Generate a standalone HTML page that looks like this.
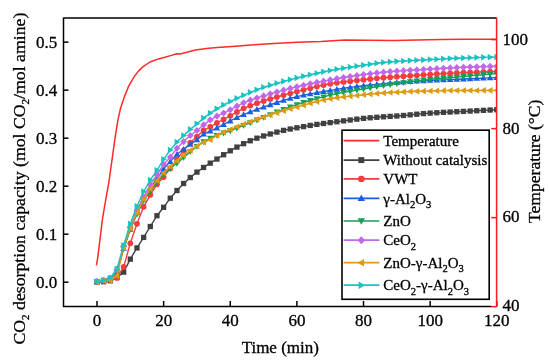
<!DOCTYPE html>
<html><head><meta charset="utf-8"><style>
html,body{margin:0;padding:0;background:#fff;}
body{width:550px;height:362px;overflow:hidden;font-family:"Liberation Serif",serif;}
svg{display:block;will-change:transform;}
</style></head><body>
<svg width="550" height="362" viewBox="0 0 550 362"><rect width="550" height="362" fill="#fff"/><clipPath id="cp"><rect x="63.5" y="18" width="433" height="288.3"/></clipPath><g clip-path="url(#cp)"><polyline points="96.40,265.40 97.70,258.00 100.10,238.70 102.40,219.40 104.50,206.80 108.90,182.00 112.40,157.20 115.50,134.90 117.70,121.20 120.60,108.00 124.30,96.90 128.80,85.90 134.40,76.40 138.70,70.90 143.10,66.60 150.00,62.00 158.40,58.90 164.90,57.30 170.50,55.60 176.90,53.70 180.20,54.00 186.70,52.30 195.50,50.10 206.40,48.60 217.30,47.50 228.20,46.70 239.10,45.90 250.00,45.10 273.60,43.60 297.30,42.20 320.90,41.50 344.60,40.10 368.20,40.30 393.60,40.40 417.30,39.90 440.90,39.40 464.60,39.20 496.50,39.20" fill="none" stroke="#ff2a2a" stroke-width="1.5" stroke-linejoin="round"/><polyline points="97.00,282.20 103.66,281.72 110.33,280.76 116.99,277.40 123.65,272.12 130.31,259.16 136.98,247.92 143.64,237.41 150.30,226.51 156.97,215.71 163.63,207.30 170.29,198.18 176.96,190.50 183.62,183.49 190.28,177.54 196.94,172.11 203.61,167.46 210.27,163.14 216.93,159.05 223.60,154.73 230.26,150.80 236.92,147.08 243.59,143.69 250.25,140.75 256.91,138.17 263.58,135.97 270.24,133.99 276.90,132.09 283.56,130.39 290.23,129.02 296.89,127.80 303.55,126.60 310.22,125.44 316.88,124.39 323.54,123.47 330.21,122.61 336.87,121.74 343.53,120.87 350.19,120.02 356.86,119.16 363.52,118.39 370.18,117.79 376.85,117.27 383.51,116.81 390.17,116.40 396.84,115.99 403.50,115.46 410.16,114.85 416.82,114.21 423.49,113.61 430.15,113.11 436.81,112.71 443.48,112.35 450.14,112.03 456.80,111.71 463.47,111.38 470.13,111.04 476.79,110.70 483.45,110.37 490.12,110.03 496.78,109.70" fill="none" stroke="#404040" stroke-width="1.4" stroke-linejoin="round"/><rect x="94.35" y="279.55" width="5.30" height="5.30" fill="#404040"/><rect x="101.01" y="279.07" width="5.30" height="5.30" fill="#404040"/><rect x="107.68" y="278.11" width="5.30" height="5.30" fill="#404040"/><rect x="114.34" y="274.75" width="5.30" height="5.30" fill="#404040"/><rect x="121.00" y="269.47" width="5.30" height="5.30" fill="#404040"/><rect x="127.66" y="256.51" width="5.30" height="5.30" fill="#404040"/><rect x="134.33" y="245.27" width="5.30" height="5.30" fill="#404040"/><rect x="140.99" y="234.76" width="5.30" height="5.30" fill="#404040"/><rect x="147.65" y="223.86" width="5.30" height="5.30" fill="#404040"/><rect x="154.32" y="213.06" width="5.30" height="5.30" fill="#404040"/><rect x="160.98" y="204.65" width="5.30" height="5.30" fill="#404040"/><rect x="167.64" y="195.53" width="5.30" height="5.30" fill="#404040"/><rect x="174.31" y="187.85" width="5.30" height="5.30" fill="#404040"/><rect x="180.97" y="180.84" width="5.30" height="5.30" fill="#404040"/><rect x="187.63" y="174.89" width="5.30" height="5.30" fill="#404040"/><rect x="194.29" y="169.46" width="5.30" height="5.30" fill="#404040"/><rect x="200.96" y="164.81" width="5.30" height="5.30" fill="#404040"/><rect x="207.62" y="160.49" width="5.30" height="5.30" fill="#404040"/><rect x="214.28" y="156.40" width="5.30" height="5.30" fill="#404040"/><rect x="220.95" y="152.08" width="5.30" height="5.30" fill="#404040"/><rect x="227.61" y="148.15" width="5.30" height="5.30" fill="#404040"/><rect x="234.27" y="144.43" width="5.30" height="5.30" fill="#404040"/><rect x="240.94" y="141.04" width="5.30" height="5.30" fill="#404040"/><rect x="247.60" y="138.10" width="5.30" height="5.30" fill="#404040"/><rect x="254.26" y="135.52" width="5.30" height="5.30" fill="#404040"/><rect x="260.93" y="133.32" width="5.30" height="5.30" fill="#404040"/><rect x="267.59" y="131.34" width="5.30" height="5.30" fill="#404040"/><rect x="274.25" y="129.44" width="5.30" height="5.30" fill="#404040"/><rect x="280.91" y="127.74" width="5.30" height="5.30" fill="#404040"/><rect x="287.58" y="126.37" width="5.30" height="5.30" fill="#404040"/><rect x="294.24" y="125.15" width="5.30" height="5.30" fill="#404040"/><rect x="300.90" y="123.95" width="5.30" height="5.30" fill="#404040"/><rect x="307.57" y="122.79" width="5.30" height="5.30" fill="#404040"/><rect x="314.23" y="121.74" width="5.30" height="5.30" fill="#404040"/><rect x="320.89" y="120.82" width="5.30" height="5.30" fill="#404040"/><rect x="327.56" y="119.96" width="5.30" height="5.30" fill="#404040"/><rect x="334.22" y="119.09" width="5.30" height="5.30" fill="#404040"/><rect x="340.88" y="118.22" width="5.30" height="5.30" fill="#404040"/><rect x="347.54" y="117.37" width="5.30" height="5.30" fill="#404040"/><rect x="354.21" y="116.51" width="5.30" height="5.30" fill="#404040"/><rect x="360.87" y="115.74" width="5.30" height="5.30" fill="#404040"/><rect x="367.53" y="115.14" width="5.30" height="5.30" fill="#404040"/><rect x="374.20" y="114.62" width="5.30" height="5.30" fill="#404040"/><rect x="380.86" y="114.16" width="5.30" height="5.30" fill="#404040"/><rect x="387.52" y="113.75" width="5.30" height="5.30" fill="#404040"/><rect x="394.19" y="113.34" width="5.30" height="5.30" fill="#404040"/><rect x="400.85" y="112.81" width="5.30" height="5.30" fill="#404040"/><rect x="407.51" y="112.20" width="5.30" height="5.30" fill="#404040"/><rect x="414.17" y="111.56" width="5.30" height="5.30" fill="#404040"/><rect x="420.84" y="110.96" width="5.30" height="5.30" fill="#404040"/><rect x="427.50" y="110.46" width="5.30" height="5.30" fill="#404040"/><rect x="434.16" y="110.06" width="5.30" height="5.30" fill="#404040"/><rect x="440.83" y="109.70" width="5.30" height="5.30" fill="#404040"/><rect x="447.49" y="109.38" width="5.30" height="5.30" fill="#404040"/><rect x="454.15" y="109.06" width="5.30" height="5.30" fill="#404040"/><rect x="460.82" y="108.73" width="5.30" height="5.30" fill="#404040"/><rect x="467.48" y="108.39" width="5.30" height="5.30" fill="#404040"/><rect x="474.14" y="108.05" width="5.30" height="5.30" fill="#404040"/><rect x="480.80" y="107.72" width="5.30" height="5.30" fill="#404040"/><rect x="487.47" y="107.38" width="5.30" height="5.30" fill="#404040"/><rect x="494.13" y="107.05" width="5.30" height="5.30" fill="#404040"/><polyline points="97.00,281.72 103.66,280.76 110.33,279.80 116.99,277.88 123.65,266.84 130.31,243.31 136.98,223.82 143.64,206.82 150.30,194.82 156.97,184.26 163.63,177.06 170.29,168.42 176.96,159.29 183.62,150.65 190.28,142.68 196.94,136.59 203.61,130.49 210.27,126.79 216.93,123.00 223.60,119.39 230.26,115.80 236.92,111.88 243.59,108.31 250.25,105.56 256.91,103.19 263.58,101.01 270.24,98.93 276.90,96.97 283.56,95.11 290.23,93.33 296.89,91.60 303.55,89.87 310.22,88.13 316.88,86.49 323.54,85.01 330.21,83.77 336.87,82.78 343.53,81.92 350.19,81.15 356.86,80.41 363.52,79.70 370.18,79.01 376.85,78.36 383.51,77.76 390.17,77.20 396.84,76.68 403.50,76.21 410.16,75.76 416.82,75.32 423.49,74.89 430.15,74.45 436.81,74.01 443.48,73.58 450.14,73.20 456.80,72.88 463.47,72.60 470.13,72.34 476.79,72.10 483.45,71.89 490.12,71.72 496.78,71.58" fill="none" stroke="#f53c3c" stroke-width="1.4" stroke-linejoin="round"/><circle cx="97.00" cy="281.72" r="2.90" fill="#f53c3c"/><circle cx="103.66" cy="280.76" r="2.90" fill="#f53c3c"/><circle cx="110.33" cy="279.80" r="2.90" fill="#f53c3c"/><circle cx="116.99" cy="277.88" r="2.90" fill="#f53c3c"/><circle cx="123.65" cy="266.84" r="2.90" fill="#f53c3c"/><circle cx="130.31" cy="243.31" r="2.90" fill="#f53c3c"/><circle cx="136.98" cy="223.82" r="2.90" fill="#f53c3c"/><circle cx="143.64" cy="206.82" r="2.90" fill="#f53c3c"/><circle cx="150.30" cy="194.82" r="2.90" fill="#f53c3c"/><circle cx="156.97" cy="184.26" r="2.90" fill="#f53c3c"/><circle cx="163.63" cy="177.06" r="2.90" fill="#f53c3c"/><circle cx="170.29" cy="168.42" r="2.90" fill="#f53c3c"/><circle cx="176.96" cy="159.29" r="2.90" fill="#f53c3c"/><circle cx="183.62" cy="150.65" r="2.90" fill="#f53c3c"/><circle cx="190.28" cy="142.68" r="2.90" fill="#f53c3c"/><circle cx="196.94" cy="136.59" r="2.90" fill="#f53c3c"/><circle cx="203.61" cy="130.49" r="2.90" fill="#f53c3c"/><circle cx="210.27" cy="126.79" r="2.90" fill="#f53c3c"/><circle cx="216.93" cy="123.00" r="2.90" fill="#f53c3c"/><circle cx="223.60" cy="119.39" r="2.90" fill="#f53c3c"/><circle cx="230.26" cy="115.80" r="2.90" fill="#f53c3c"/><circle cx="236.92" cy="111.88" r="2.90" fill="#f53c3c"/><circle cx="243.59" cy="108.31" r="2.90" fill="#f53c3c"/><circle cx="250.25" cy="105.56" r="2.90" fill="#f53c3c"/><circle cx="256.91" cy="103.19" r="2.90" fill="#f53c3c"/><circle cx="263.58" cy="101.01" r="2.90" fill="#f53c3c"/><circle cx="270.24" cy="98.93" r="2.90" fill="#f53c3c"/><circle cx="276.90" cy="96.97" r="2.90" fill="#f53c3c"/><circle cx="283.56" cy="95.11" r="2.90" fill="#f53c3c"/><circle cx="290.23" cy="93.33" r="2.90" fill="#f53c3c"/><circle cx="296.89" cy="91.60" r="2.90" fill="#f53c3c"/><circle cx="303.55" cy="89.87" r="2.90" fill="#f53c3c"/><circle cx="310.22" cy="88.13" r="2.90" fill="#f53c3c"/><circle cx="316.88" cy="86.49" r="2.90" fill="#f53c3c"/><circle cx="323.54" cy="85.01" r="2.90" fill="#f53c3c"/><circle cx="330.21" cy="83.77" r="2.90" fill="#f53c3c"/><circle cx="336.87" cy="82.78" r="2.90" fill="#f53c3c"/><circle cx="343.53" cy="81.92" r="2.90" fill="#f53c3c"/><circle cx="350.19" cy="81.15" r="2.90" fill="#f53c3c"/><circle cx="356.86" cy="80.41" r="2.90" fill="#f53c3c"/><circle cx="363.52" cy="79.70" r="2.90" fill="#f53c3c"/><circle cx="370.18" cy="79.01" r="2.90" fill="#f53c3c"/><circle cx="376.85" cy="78.36" r="2.90" fill="#f53c3c"/><circle cx="383.51" cy="77.76" r="2.90" fill="#f53c3c"/><circle cx="390.17" cy="77.20" r="2.90" fill="#f53c3c"/><circle cx="396.84" cy="76.68" r="2.90" fill="#f53c3c"/><circle cx="403.50" cy="76.21" r="2.90" fill="#f53c3c"/><circle cx="410.16" cy="75.76" r="2.90" fill="#f53c3c"/><circle cx="416.82" cy="75.32" r="2.90" fill="#f53c3c"/><circle cx="423.49" cy="74.89" r="2.90" fill="#f53c3c"/><circle cx="430.15" cy="74.45" r="2.90" fill="#f53c3c"/><circle cx="436.81" cy="74.01" r="2.90" fill="#f53c3c"/><circle cx="443.48" cy="73.58" r="2.90" fill="#f53c3c"/><circle cx="450.14" cy="73.20" r="2.90" fill="#f53c3c"/><circle cx="456.80" cy="72.88" r="2.90" fill="#f53c3c"/><circle cx="463.47" cy="72.60" r="2.90" fill="#f53c3c"/><circle cx="470.13" cy="72.34" r="2.90" fill="#f53c3c"/><circle cx="476.79" cy="72.10" r="2.90" fill="#f53c3c"/><circle cx="483.45" cy="71.89" r="2.90" fill="#f53c3c"/><circle cx="490.12" cy="71.72" r="2.90" fill="#f53c3c"/><circle cx="496.78" cy="71.58" r="2.90" fill="#f53c3c"/><polyline points="97.00,281.72 103.66,280.28 110.33,278.84 116.99,271.64 123.65,248.59 130.31,229.39 136.98,212.59 143.64,199.62 150.30,188.10 156.97,178.50 163.63,168.90 170.29,161.60 176.96,154.30 183.62,149.31 190.28,144.41 196.94,139.80 203.61,134.19 210.27,131.11 216.93,127.99 223.60,124.50 230.26,120.98 236.92,117.69 243.59,114.65 250.25,111.93 256.91,109.42 263.58,107.06 270.24,104.75 276.90,102.48 283.56,100.33 290.23,98.36 296.89,96.64 303.55,95.17 310.22,93.84 316.88,92.63 323.54,91.50 330.21,90.40 336.87,89.33 343.53,88.31 350.19,87.36 356.86,86.51 363.52,85.75 370.18,85.04 376.85,84.38 383.51,83.77 390.17,83.20 396.84,82.65 403.50,82.13 410.16,81.64 416.82,81.19 423.49,80.80 430.15,80.45 436.81,80.15 443.48,79.87 450.14,79.59 456.80,79.31 463.47,79.02 470.13,78.73 476.79,78.44 483.45,78.15 490.12,77.87 496.78,77.58" fill="none" stroke="#1a5fe0" stroke-width="1.4" stroke-linejoin="round"/><path d="M97.00,278.32L100.30,284.12L93.70,284.12Z" fill="#1a5fe0"/><path d="M103.66,276.88L106.96,282.68L100.36,282.68Z" fill="#1a5fe0"/><path d="M110.33,275.44L113.63,281.24L107.03,281.24Z" fill="#1a5fe0"/><path d="M116.99,268.24L120.29,274.04L113.69,274.04Z" fill="#1a5fe0"/><path d="M123.65,245.19L126.95,250.99L120.35,250.99Z" fill="#1a5fe0"/><path d="M130.31,225.99L133.62,231.79L127.02,231.79Z" fill="#1a5fe0"/><path d="M136.98,209.19L140.28,214.99L133.68,214.99Z" fill="#1a5fe0"/><path d="M143.64,196.22L146.94,202.02L140.34,202.02Z" fill="#1a5fe0"/><path d="M150.30,184.70L153.60,190.50L147.00,190.50Z" fill="#1a5fe0"/><path d="M156.97,175.10L160.27,180.90L153.67,180.90Z" fill="#1a5fe0"/><path d="M163.63,165.50L166.93,171.30L160.33,171.30Z" fill="#1a5fe0"/><path d="M170.29,158.20L173.59,164.00L166.99,164.00Z" fill="#1a5fe0"/><path d="M176.96,150.90L180.26,156.70L173.66,156.70Z" fill="#1a5fe0"/><path d="M183.62,145.91L186.92,151.71L180.32,151.71Z" fill="#1a5fe0"/><path d="M190.28,141.01L193.58,146.81L186.98,146.81Z" fill="#1a5fe0"/><path d="M196.94,136.40L200.25,142.20L193.64,142.20Z" fill="#1a5fe0"/><path d="M203.61,130.79L206.91,136.59L200.31,136.59Z" fill="#1a5fe0"/><path d="M210.27,127.71L213.57,133.51L206.97,133.51Z" fill="#1a5fe0"/><path d="M216.93,124.59L220.23,130.39L213.63,130.39Z" fill="#1a5fe0"/><path d="M223.60,121.10L226.90,126.90L220.30,126.90Z" fill="#1a5fe0"/><path d="M230.26,117.58L233.56,123.38L226.96,123.38Z" fill="#1a5fe0"/><path d="M236.92,114.29L240.22,120.09L233.62,120.09Z" fill="#1a5fe0"/><path d="M243.59,111.25L246.89,117.05L240.29,117.05Z" fill="#1a5fe0"/><path d="M250.25,108.53L253.55,114.33L246.95,114.33Z" fill="#1a5fe0"/><path d="M256.91,106.02L260.21,111.82L253.61,111.82Z" fill="#1a5fe0"/><path d="M263.58,103.66L266.88,109.46L260.28,109.46Z" fill="#1a5fe0"/><path d="M270.24,101.35L273.54,107.15L266.94,107.15Z" fill="#1a5fe0"/><path d="M276.90,99.08L280.20,104.88L273.60,104.88Z" fill="#1a5fe0"/><path d="M283.56,96.93L286.86,102.73L280.26,102.73Z" fill="#1a5fe0"/><path d="M290.23,94.96L293.53,100.76L286.93,100.76Z" fill="#1a5fe0"/><path d="M296.89,93.24L300.19,99.04L293.59,99.04Z" fill="#1a5fe0"/><path d="M303.55,91.77L306.85,97.57L300.25,97.57Z" fill="#1a5fe0"/><path d="M310.22,90.44L313.52,96.24L306.92,96.24Z" fill="#1a5fe0"/><path d="M316.88,89.23L320.18,95.03L313.58,95.03Z" fill="#1a5fe0"/><path d="M323.54,88.10L326.84,93.90L320.24,93.90Z" fill="#1a5fe0"/><path d="M330.21,87.00L333.51,92.80L326.91,92.80Z" fill="#1a5fe0"/><path d="M336.87,85.93L340.17,91.73L333.57,91.73Z" fill="#1a5fe0"/><path d="M343.53,84.91L346.83,90.71L340.23,90.71Z" fill="#1a5fe0"/><path d="M350.19,83.96L353.49,89.76L346.89,89.76Z" fill="#1a5fe0"/><path d="M356.86,83.11L360.16,88.91L353.56,88.91Z" fill="#1a5fe0"/><path d="M363.52,82.35L366.82,88.15L360.22,88.15Z" fill="#1a5fe0"/><path d="M370.18,81.64L373.48,87.44L366.88,87.44Z" fill="#1a5fe0"/><path d="M376.85,80.98L380.15,86.78L373.55,86.78Z" fill="#1a5fe0"/><path d="M383.51,80.37L386.81,86.17L380.21,86.17Z" fill="#1a5fe0"/><path d="M390.17,79.80L393.47,85.60L386.87,85.60Z" fill="#1a5fe0"/><path d="M396.84,79.25L400.14,85.05L393.54,85.05Z" fill="#1a5fe0"/><path d="M403.50,78.73L406.80,84.53L400.20,84.53Z" fill="#1a5fe0"/><path d="M410.16,78.24L413.46,84.04L406.86,84.04Z" fill="#1a5fe0"/><path d="M416.82,77.79L420.12,83.59L413.52,83.59Z" fill="#1a5fe0"/><path d="M423.49,77.40L426.79,83.20L420.19,83.20Z" fill="#1a5fe0"/><path d="M430.15,77.05L433.45,82.85L426.85,82.85Z" fill="#1a5fe0"/><path d="M436.81,76.75L440.11,82.55L433.51,82.55Z" fill="#1a5fe0"/><path d="M443.48,76.47L446.78,82.27L440.18,82.27Z" fill="#1a5fe0"/><path d="M450.14,76.19L453.44,81.99L446.84,81.99Z" fill="#1a5fe0"/><path d="M456.80,75.91L460.10,81.71L453.50,81.71Z" fill="#1a5fe0"/><path d="M463.47,75.62L466.77,81.42L460.17,81.42Z" fill="#1a5fe0"/><path d="M470.13,75.33L473.43,81.13L466.83,81.13Z" fill="#1a5fe0"/><path d="M476.79,75.04L480.09,80.84L473.49,80.84Z" fill="#1a5fe0"/><path d="M483.45,74.75L486.75,80.55L480.15,80.55Z" fill="#1a5fe0"/><path d="M490.12,74.47L493.42,80.27L486.82,80.27Z" fill="#1a5fe0"/><path d="M496.78,74.18L500.08,79.98L493.48,79.98Z" fill="#1a5fe0"/><polyline points="97.00,281.72 103.66,280.28 110.33,278.84 116.99,272.60 123.65,248.59 130.31,229.39 136.98,214.03 143.64,200.58 150.30,190.98 156.97,182.34 163.63,174.66 170.29,168.42 176.96,163.28 183.62,157.37 190.28,151.61 196.94,146.33 203.61,141.77 210.27,138.17 216.93,135.29 223.60,132.98 230.26,130.73 236.92,128.15 243.59,125.45 250.25,122.73 256.91,119.98 263.58,117.29 270.24,114.61 276.90,111.93 283.56,109.31 290.23,106.82 296.89,104.56 303.55,102.48 310.22,100.48 316.88,98.59 323.54,96.82 330.21,95.19 336.87,93.71 343.53,92.43 350.19,91.28 356.86,90.16 363.52,89.00 370.18,87.85 376.85,86.72 383.51,85.62 390.17,84.59 396.84,83.60 403.50,82.63 410.16,81.70 416.82,80.85 423.49,80.08 430.15,79.40 436.81,78.80 443.48,78.23 450.14,77.68 456.80,77.10 463.47,76.50 470.13,75.90 476.79,75.30 483.45,74.70 490.12,74.10 496.78,73.50" fill="none" stroke="#12a05a" stroke-width="1.4" stroke-linejoin="round"/><path d="M97.00,285.12L100.30,279.32L93.70,279.32Z" fill="#12a05a"/><path d="M103.66,283.68L106.96,277.88L100.36,277.88Z" fill="#12a05a"/><path d="M110.33,282.24L113.63,276.44L107.03,276.44Z" fill="#12a05a"/><path d="M116.99,276.00L120.29,270.20L113.69,270.20Z" fill="#12a05a"/><path d="M123.65,251.99L126.95,246.19L120.35,246.19Z" fill="#12a05a"/><path d="M130.31,232.79L133.62,226.99L127.02,226.99Z" fill="#12a05a"/><path d="M136.98,217.43L140.28,211.63L133.68,211.63Z" fill="#12a05a"/><path d="M143.64,203.98L146.94,198.18L140.34,198.18Z" fill="#12a05a"/><path d="M150.30,194.38L153.60,188.58L147.00,188.58Z" fill="#12a05a"/><path d="M156.97,185.74L160.27,179.94L153.67,179.94Z" fill="#12a05a"/><path d="M163.63,178.06L166.93,172.26L160.33,172.26Z" fill="#12a05a"/><path d="M170.29,171.82L173.59,166.02L166.99,166.02Z" fill="#12a05a"/><path d="M176.96,166.68L180.26,160.88L173.66,160.88Z" fill="#12a05a"/><path d="M183.62,160.77L186.92,154.97L180.32,154.97Z" fill="#12a05a"/><path d="M190.28,155.01L193.58,149.21L186.98,149.21Z" fill="#12a05a"/><path d="M196.94,149.73L200.25,143.93L193.64,143.93Z" fill="#12a05a"/><path d="M203.61,145.17L206.91,139.37L200.31,139.37Z" fill="#12a05a"/><path d="M210.27,141.57L213.57,135.77L206.97,135.77Z" fill="#12a05a"/><path d="M216.93,138.69L220.23,132.89L213.63,132.89Z" fill="#12a05a"/><path d="M223.60,136.38L226.90,130.58L220.30,130.58Z" fill="#12a05a"/><path d="M230.26,134.13L233.56,128.33L226.96,128.33Z" fill="#12a05a"/><path d="M236.92,131.55L240.22,125.75L233.62,125.75Z" fill="#12a05a"/><path d="M243.59,128.85L246.89,123.05L240.29,123.05Z" fill="#12a05a"/><path d="M250.25,126.13L253.55,120.33L246.95,120.33Z" fill="#12a05a"/><path d="M256.91,123.38L260.21,117.58L253.61,117.58Z" fill="#12a05a"/><path d="M263.58,120.69L266.88,114.89L260.28,114.89Z" fill="#12a05a"/><path d="M270.24,118.01L273.54,112.21L266.94,112.21Z" fill="#12a05a"/><path d="M276.90,115.33L280.20,109.53L273.60,109.53Z" fill="#12a05a"/><path d="M283.56,112.71L286.86,106.91L280.26,106.91Z" fill="#12a05a"/><path d="M290.23,110.22L293.53,104.42L286.93,104.42Z" fill="#12a05a"/><path d="M296.89,107.96L300.19,102.16L293.59,102.16Z" fill="#12a05a"/><path d="M303.55,105.88L306.85,100.08L300.25,100.08Z" fill="#12a05a"/><path d="M310.22,103.88L313.52,98.08L306.92,98.08Z" fill="#12a05a"/><path d="M316.88,101.99L320.18,96.19L313.58,96.19Z" fill="#12a05a"/><path d="M323.54,100.22L326.84,94.42L320.24,94.42Z" fill="#12a05a"/><path d="M330.21,98.59L333.51,92.79L326.91,92.79Z" fill="#12a05a"/><path d="M336.87,97.11L340.17,91.31L333.57,91.31Z" fill="#12a05a"/><path d="M343.53,95.83L346.83,90.03L340.23,90.03Z" fill="#12a05a"/><path d="M350.19,94.68L353.49,88.88L346.89,88.88Z" fill="#12a05a"/><path d="M356.86,93.56L360.16,87.76L353.56,87.76Z" fill="#12a05a"/><path d="M363.52,92.40L366.82,86.60L360.22,86.60Z" fill="#12a05a"/><path d="M370.18,91.25L373.48,85.45L366.88,85.45Z" fill="#12a05a"/><path d="M376.85,90.12L380.15,84.32L373.55,84.32Z" fill="#12a05a"/><path d="M383.51,89.02L386.81,83.22L380.21,83.22Z" fill="#12a05a"/><path d="M390.17,87.99L393.47,82.19L386.87,82.19Z" fill="#12a05a"/><path d="M396.84,87.00L400.14,81.20L393.54,81.20Z" fill="#12a05a"/><path d="M403.50,86.03L406.80,80.23L400.20,80.23Z" fill="#12a05a"/><path d="M410.16,85.10L413.46,79.30L406.86,79.30Z" fill="#12a05a"/><path d="M416.82,84.25L420.12,78.45L413.52,78.45Z" fill="#12a05a"/><path d="M423.49,83.48L426.79,77.68L420.19,77.68Z" fill="#12a05a"/><path d="M430.15,82.80L433.45,77.00L426.85,77.00Z" fill="#12a05a"/><path d="M436.81,82.20L440.11,76.40L433.51,76.40Z" fill="#12a05a"/><path d="M443.48,81.63L446.78,75.83L440.18,75.83Z" fill="#12a05a"/><path d="M450.14,81.08L453.44,75.28L446.84,75.28Z" fill="#12a05a"/><path d="M456.80,80.50L460.10,74.70L453.50,74.70Z" fill="#12a05a"/><path d="M463.47,79.90L466.77,74.10L460.17,74.10Z" fill="#12a05a"/><path d="M470.13,79.30L473.43,73.50L466.83,73.50Z" fill="#12a05a"/><path d="M476.79,78.70L480.09,72.90L473.49,72.90Z" fill="#12a05a"/><path d="M483.45,78.10L486.75,72.30L480.15,72.30Z" fill="#12a05a"/><path d="M490.12,77.50L493.42,71.70L486.82,71.70Z" fill="#12a05a"/><path d="M496.78,76.90L500.08,71.10L493.48,71.10Z" fill="#12a05a"/><polyline points="97.00,281.72 103.66,280.28 110.33,278.36 116.99,269.72 123.65,246.19 130.31,226.99 136.98,210.19 143.64,196.74 150.30,184.40 156.97,174.99 163.63,164.38 170.29,157.18 176.96,148.25 183.62,141.58 190.28,135.48 196.94,130.49 203.61,124.92 210.27,119.93 216.93,116.18 223.60,112.98 230.26,109.84 236.92,106.18 243.59,102.79 250.25,100.21 256.91,97.99 263.58,95.92 270.24,93.91 276.90,91.99 283.56,90.16 290.23,88.43 296.89,86.80 303.55,85.27 310.22,83.82 316.88,82.44 323.54,81.13 330.21,79.89 336.87,78.69 343.53,77.55 350.19,76.49 356.86,75.52 363.52,74.61 370.18,73.73 376.85,72.91 383.51,72.19 390.17,71.58 396.84,71.08 403.50,70.65 410.16,70.27 416.82,69.90 423.49,69.52 430.15,69.11 436.81,68.69 443.48,68.28 450.14,67.91 456.80,67.60 463.47,67.32 470.13,67.07 476.79,66.83 483.45,66.62 490.12,66.44 496.78,66.30" fill="none" stroke="#c267ea" stroke-width="1.4" stroke-linejoin="round"/><path d="M97.00,278.12L100.40,281.72L97.00,285.32L93.60,281.72Z" fill="#c267ea"/><path d="M103.66,276.68L107.06,280.28L103.66,283.88L100.26,280.28Z" fill="#c267ea"/><path d="M110.33,274.76L113.73,278.36L110.33,281.96L106.93,278.36Z" fill="#c267ea"/><path d="M116.99,266.12L120.39,269.72L116.99,273.32L113.59,269.72Z" fill="#c267ea"/><path d="M123.65,242.59L127.05,246.19L123.65,249.79L120.25,246.19Z" fill="#c267ea"/><path d="M130.31,223.39L133.72,226.99L130.31,230.59L126.91,226.99Z" fill="#c267ea"/><path d="M136.98,206.59L140.38,210.19L136.98,213.78L133.58,210.19Z" fill="#c267ea"/><path d="M143.64,193.14L147.04,196.74L143.64,200.34L140.24,196.74Z" fill="#c267ea"/><path d="M150.30,180.80L153.70,184.40L150.30,188.00L146.90,184.40Z" fill="#c267ea"/><path d="M156.97,171.39L160.37,174.99L156.97,178.59L153.57,174.99Z" fill="#c267ea"/><path d="M163.63,160.78L167.03,164.38L163.63,167.98L160.23,164.38Z" fill="#c267ea"/><path d="M170.29,153.58L173.69,157.18L170.29,160.78L166.89,157.18Z" fill="#c267ea"/><path d="M176.96,144.65L180.36,148.25L176.96,151.85L173.56,148.25Z" fill="#c267ea"/><path d="M183.62,137.98L187.02,141.58L183.62,145.18L180.22,141.58Z" fill="#c267ea"/><path d="M190.28,131.88L193.68,135.48L190.28,139.08L186.88,135.48Z" fill="#c267ea"/><path d="M196.94,126.89L200.34,130.49L196.94,134.09L193.54,130.49Z" fill="#c267ea"/><path d="M203.61,121.32L207.01,124.92L203.61,128.52L200.21,124.92Z" fill="#c267ea"/><path d="M210.27,116.33L213.67,119.93L210.27,123.53L206.87,119.93Z" fill="#c267ea"/><path d="M216.93,112.58L220.33,116.18L216.93,119.78L213.53,116.18Z" fill="#c267ea"/><path d="M223.60,109.38L227.00,112.98L223.60,116.58L220.20,112.98Z" fill="#c267ea"/><path d="M230.26,106.24L233.66,109.84L230.26,113.44L226.86,109.84Z" fill="#c267ea"/><path d="M236.92,102.58L240.32,106.18L236.92,109.78L233.52,106.18Z" fill="#c267ea"/><path d="M243.59,99.19L246.99,102.79L243.59,106.39L240.19,102.79Z" fill="#c267ea"/><path d="M250.25,96.61L253.65,100.21L250.25,103.81L246.85,100.21Z" fill="#c267ea"/><path d="M256.91,94.39L260.31,97.99L256.91,101.59L253.51,97.99Z" fill="#c267ea"/><path d="M263.58,92.32L266.98,95.92L263.58,99.52L260.18,95.92Z" fill="#c267ea"/><path d="M270.24,90.31L273.64,93.91L270.24,97.51L266.84,93.91Z" fill="#c267ea"/><path d="M276.90,88.39L280.30,91.99L276.90,95.59L273.50,91.99Z" fill="#c267ea"/><path d="M283.56,86.56L286.96,90.16L283.56,93.76L280.16,90.16Z" fill="#c267ea"/><path d="M290.23,84.83L293.63,88.43L290.23,92.03L286.83,88.43Z" fill="#c267ea"/><path d="M296.89,83.20L300.29,86.80L296.89,90.40L293.49,86.80Z" fill="#c267ea"/><path d="M303.55,81.67L306.95,85.27L303.55,88.87L300.15,85.27Z" fill="#c267ea"/><path d="M310.22,80.22L313.62,83.82L310.22,87.42L306.82,83.82Z" fill="#c267ea"/><path d="M316.88,78.84L320.28,82.44L316.88,86.04L313.48,82.44Z" fill="#c267ea"/><path d="M323.54,77.53L326.94,81.13L323.54,84.73L320.14,81.13Z" fill="#c267ea"/><path d="M330.21,76.29L333.61,79.89L330.21,83.49L326.81,79.89Z" fill="#c267ea"/><path d="M336.87,75.09L340.27,78.69L336.87,82.29L333.47,78.69Z" fill="#c267ea"/><path d="M343.53,73.95L346.93,77.55L343.53,81.15L340.13,77.55Z" fill="#c267ea"/><path d="M350.19,72.89L353.59,76.49L350.19,80.09L346.79,76.49Z" fill="#c267ea"/><path d="M356.86,71.92L360.26,75.52L356.86,79.12L353.46,75.52Z" fill="#c267ea"/><path d="M363.52,71.01L366.92,74.61L363.52,78.21L360.12,74.61Z" fill="#c267ea"/><path d="M370.18,70.13L373.58,73.73L370.18,77.33L366.78,73.73Z" fill="#c267ea"/><path d="M376.85,69.31L380.25,72.91L376.85,76.51L373.45,72.91Z" fill="#c267ea"/><path d="M383.51,68.59L386.91,72.19L383.51,75.79L380.11,72.19Z" fill="#c267ea"/><path d="M390.17,67.98L393.57,71.58L390.17,75.18L386.77,71.58Z" fill="#c267ea"/><path d="M396.84,67.48L400.24,71.08L396.84,74.68L393.44,71.08Z" fill="#c267ea"/><path d="M403.50,67.05L406.90,70.65L403.50,74.25L400.10,70.65Z" fill="#c267ea"/><path d="M410.16,66.67L413.56,70.27L410.16,73.87L406.76,70.27Z" fill="#c267ea"/><path d="M416.82,66.30L420.22,69.90L416.82,73.50L413.42,69.90Z" fill="#c267ea"/><path d="M423.49,65.92L426.89,69.52L423.49,73.12L420.09,69.52Z" fill="#c267ea"/><path d="M430.15,65.51L433.55,69.11L430.15,72.71L426.75,69.11Z" fill="#c267ea"/><path d="M436.81,65.09L440.21,68.69L436.81,72.29L433.41,68.69Z" fill="#c267ea"/><path d="M443.48,64.68L446.88,68.28L443.48,71.88L440.08,68.28Z" fill="#c267ea"/><path d="M450.14,64.31L453.54,67.91L450.14,71.51L446.74,67.91Z" fill="#c267ea"/><path d="M456.80,64.00L460.20,67.60L456.80,71.20L453.40,67.60Z" fill="#c267ea"/><path d="M463.47,63.72L466.87,67.32L463.47,70.92L460.07,67.32Z" fill="#c267ea"/><path d="M470.13,63.47L473.53,67.07L470.13,70.67L466.73,67.07Z" fill="#c267ea"/><path d="M476.79,63.23L480.19,66.83L476.79,70.43L473.39,66.83Z" fill="#c267ea"/><path d="M483.45,63.02L486.85,66.62L483.45,70.22L480.05,66.62Z" fill="#c267ea"/><path d="M490.12,62.84L493.52,66.44L490.12,70.04L486.72,66.44Z" fill="#c267ea"/><path d="M496.78,62.70L500.18,66.30L496.78,69.90L493.38,66.30Z" fill="#c267ea"/><polyline points="97.00,282.20 103.66,280.76 110.33,280.76 116.99,275.81 123.65,247.63 130.31,228.43 136.98,212.59 143.64,199.29 150.30,188.82 156.97,180.51 163.63,172.74 170.29,166.59 176.96,160.97 183.62,155.41 190.28,150.41 196.94,146.00 203.61,142.30 210.27,139.80 216.93,135.48 223.60,132.30 230.26,129.53 236.92,126.82 243.59,124.25 250.25,121.75 256.91,119.33 263.58,117.05 270.24,114.87 276.90,112.77 283.56,110.75 290.23,108.81 296.89,106.96 303.55,105.14 310.22,103.32 316.88,101.60 323.54,100.06 330.21,98.80 336.87,97.79 343.53,96.92 350.19,96.15 356.86,95.44 363.52,94.76 370.18,94.12 376.85,93.52 383.51,93.00 390.17,92.56 396.84,92.19 403.50,91.86 410.16,91.57 416.82,91.32 423.49,91.12 430.15,90.95 436.81,90.79 443.48,90.65 450.14,90.55 456.80,90.50 463.47,90.47 470.13,90.45 476.79,90.43 483.45,90.41 490.12,90.40 496.78,90.40" fill="none" stroke="#dd9a12" stroke-width="1.4" stroke-linejoin="round"/><path d="M93.60,282.20L99.40,278.90L99.40,285.50Z" fill="#dd9a12"/><path d="M100.26,280.76L106.06,277.46L106.06,284.06Z" fill="#dd9a12"/><path d="M106.93,280.76L112.73,277.46L112.73,284.06Z" fill="#dd9a12"/><path d="M113.59,275.81L119.39,272.51L119.39,279.11Z" fill="#dd9a12"/><path d="M120.25,247.63L126.05,244.33L126.05,250.93Z" fill="#dd9a12"/><path d="M126.91,228.43L132.72,225.13L132.72,231.73Z" fill="#dd9a12"/><path d="M133.58,212.59L139.38,209.29L139.38,215.89Z" fill="#dd9a12"/><path d="M140.24,199.29L146.04,195.99L146.04,202.59Z" fill="#dd9a12"/><path d="M146.90,188.82L152.70,185.52L152.70,192.12Z" fill="#dd9a12"/><path d="M153.57,180.51L159.37,177.21L159.37,183.81Z" fill="#dd9a12"/><path d="M160.23,172.74L166.03,169.44L166.03,176.04Z" fill="#dd9a12"/><path d="M166.89,166.59L172.69,163.29L172.69,169.89Z" fill="#dd9a12"/><path d="M173.56,160.97L179.36,157.67L179.36,164.27Z" fill="#dd9a12"/><path d="M180.22,155.41L186.02,152.11L186.02,158.71Z" fill="#dd9a12"/><path d="M186.88,150.41L192.68,147.11L192.68,153.71Z" fill="#dd9a12"/><path d="M193.54,146.00L199.34,142.70L199.34,149.30Z" fill="#dd9a12"/><path d="M200.21,142.30L206.01,139.00L206.01,145.60Z" fill="#dd9a12"/><path d="M206.87,139.80L212.67,136.50L212.67,143.10Z" fill="#dd9a12"/><path d="M213.53,135.48L219.33,132.18L219.33,138.78Z" fill="#dd9a12"/><path d="M220.20,132.30L226.00,129.00L226.00,135.60Z" fill="#dd9a12"/><path d="M226.86,129.53L232.66,126.23L232.66,132.83Z" fill="#dd9a12"/><path d="M233.52,126.82L239.32,123.52L239.32,130.12Z" fill="#dd9a12"/><path d="M240.19,124.25L245.99,120.95L245.99,127.55Z" fill="#dd9a12"/><path d="M246.85,121.75L252.65,118.45L252.65,125.05Z" fill="#dd9a12"/><path d="M253.51,119.33L259.31,116.03L259.31,122.63Z" fill="#dd9a12"/><path d="M260.18,117.05L265.98,113.75L265.98,120.35Z" fill="#dd9a12"/><path d="M266.84,114.87L272.64,111.57L272.64,118.17Z" fill="#dd9a12"/><path d="M273.50,112.77L279.30,109.47L279.30,116.07Z" fill="#dd9a12"/><path d="M280.16,110.75L285.96,107.45L285.96,114.05Z" fill="#dd9a12"/><path d="M286.83,108.81L292.63,105.51L292.63,112.11Z" fill="#dd9a12"/><path d="M293.49,106.96L299.29,103.66L299.29,110.26Z" fill="#dd9a12"/><path d="M300.15,105.14L305.95,101.84L305.95,108.44Z" fill="#dd9a12"/><path d="M306.82,103.32L312.62,100.02L312.62,106.62Z" fill="#dd9a12"/><path d="M313.48,101.60L319.28,98.30L319.28,104.90Z" fill="#dd9a12"/><path d="M320.14,100.06L325.94,96.76L325.94,103.36Z" fill="#dd9a12"/><path d="M326.81,98.80L332.61,95.50L332.61,102.10Z" fill="#dd9a12"/><path d="M333.47,97.79L339.27,94.49L339.27,101.09Z" fill="#dd9a12"/><path d="M340.13,96.92L345.93,93.62L345.93,100.22Z" fill="#dd9a12"/><path d="M346.79,96.15L352.59,92.85L352.59,99.45Z" fill="#dd9a12"/><path d="M353.46,95.44L359.26,92.14L359.26,98.74Z" fill="#dd9a12"/><path d="M360.12,94.76L365.92,91.46L365.92,98.06Z" fill="#dd9a12"/><path d="M366.78,94.12L372.58,90.82L372.58,97.42Z" fill="#dd9a12"/><path d="M373.45,93.52L379.25,90.22L379.25,96.82Z" fill="#dd9a12"/><path d="M380.11,93.00L385.91,89.70L385.91,96.30Z" fill="#dd9a12"/><path d="M386.77,92.56L392.57,89.26L392.57,95.86Z" fill="#dd9a12"/><path d="M393.44,92.19L399.24,88.89L399.24,95.49Z" fill="#dd9a12"/><path d="M400.10,91.86L405.90,88.56L405.90,95.16Z" fill="#dd9a12"/><path d="M406.76,91.57L412.56,88.27L412.56,94.87Z" fill="#dd9a12"/><path d="M413.42,91.32L419.22,88.02L419.22,94.62Z" fill="#dd9a12"/><path d="M420.09,91.12L425.89,87.82L425.89,94.42Z" fill="#dd9a12"/><path d="M426.75,90.95L432.55,87.65L432.55,94.25Z" fill="#dd9a12"/><path d="M433.41,90.79L439.21,87.49L439.21,94.09Z" fill="#dd9a12"/><path d="M440.08,90.65L445.88,87.35L445.88,93.95Z" fill="#dd9a12"/><path d="M446.74,90.55L452.54,87.25L452.54,93.85Z" fill="#dd9a12"/><path d="M453.40,90.50L459.20,87.20L459.20,93.80Z" fill="#dd9a12"/><path d="M460.07,90.47L465.87,87.17L465.87,93.77Z" fill="#dd9a12"/><path d="M466.73,90.45L472.53,87.15L472.53,93.75Z" fill="#dd9a12"/><path d="M473.39,90.43L479.19,87.13L479.19,93.73Z" fill="#dd9a12"/><path d="M480.05,90.41L485.85,87.11L485.85,93.71Z" fill="#dd9a12"/><path d="M486.72,90.40L492.52,87.10L492.52,93.70Z" fill="#dd9a12"/><path d="M493.38,90.40L499.18,87.10L499.18,93.70Z" fill="#dd9a12"/><polyline points="97.00,281.72 103.66,280.28 110.33,277.88 116.99,268.76 123.65,245.23 130.31,223.82 136.98,206.34 143.64,191.56 150.30,179.99 156.97,170.34 163.63,159.29 170.29,149.98 176.96,142.11 183.62,135.48 190.28,129.38 196.94,123.77 203.61,118.10 210.27,113.11 216.93,108.69 223.60,104.90 230.26,101.44 236.92,98.20 243.59,95.20 250.25,92.36 256.91,89.68 263.58,87.28 270.24,85.15 276.90,83.18 283.56,81.34 290.23,79.60 296.89,77.92 303.55,76.28 310.22,74.70 316.88,73.20 323.54,71.78 330.21,70.48 336.87,69.28 343.53,68.18 350.19,67.14 356.86,66.15 363.52,65.17 370.18,64.20 376.85,63.28 383.51,62.47 390.17,61.83 396.84,61.35 403.50,60.95 410.16,60.59 416.82,60.26 423.49,59.91 430.15,59.55 436.81,59.19 443.48,58.83 450.14,58.51 456.80,58.23 463.47,57.99 470.13,57.75 476.79,57.54 483.45,57.34 490.12,57.17 496.78,57.03" fill="none" stroke="#1cc2c2" stroke-width="1.4" stroke-linejoin="round"/><path d="M100.40,281.72L94.60,278.42L94.60,285.02Z" fill="#1cc2c2"/><path d="M107.06,280.28L101.26,276.98L101.26,283.58Z" fill="#1cc2c2"/><path d="M113.73,277.88L107.93,274.58L107.93,281.18Z" fill="#1cc2c2"/><path d="M120.39,268.76L114.59,265.46L114.59,272.06Z" fill="#1cc2c2"/><path d="M127.05,245.23L121.25,241.93L121.25,248.53Z" fill="#1cc2c2"/><path d="M133.72,223.82L127.91,220.52L127.91,227.12Z" fill="#1cc2c2"/><path d="M140.38,206.34L134.58,203.04L134.58,209.64Z" fill="#1cc2c2"/><path d="M147.04,191.56L141.24,188.26L141.24,194.86Z" fill="#1cc2c2"/><path d="M153.70,179.99L147.90,176.69L147.90,183.29Z" fill="#1cc2c2"/><path d="M160.37,170.34L154.57,167.04L154.57,173.64Z" fill="#1cc2c2"/><path d="M167.03,159.29L161.23,155.99L161.23,162.59Z" fill="#1cc2c2"/><path d="M173.69,149.98L167.89,146.68L167.89,153.28Z" fill="#1cc2c2"/><path d="M180.36,142.11L174.56,138.81L174.56,145.41Z" fill="#1cc2c2"/><path d="M187.02,135.48L181.22,132.18L181.22,138.78Z" fill="#1cc2c2"/><path d="M193.68,129.38L187.88,126.08L187.88,132.68Z" fill="#1cc2c2"/><path d="M200.34,123.77L194.54,120.47L194.54,127.07Z" fill="#1cc2c2"/><path d="M207.01,118.10L201.21,114.80L201.21,121.40Z" fill="#1cc2c2"/><path d="M213.67,113.11L207.87,109.81L207.87,116.41Z" fill="#1cc2c2"/><path d="M220.33,108.69L214.53,105.39L214.53,111.99Z" fill="#1cc2c2"/><path d="M227.00,104.90L221.20,101.60L221.20,108.20Z" fill="#1cc2c2"/><path d="M233.66,101.44L227.86,98.14L227.86,104.74Z" fill="#1cc2c2"/><path d="M240.32,98.20L234.52,94.90L234.52,101.50Z" fill="#1cc2c2"/><path d="M246.99,95.20L241.19,91.90L241.19,98.50Z" fill="#1cc2c2"/><path d="M253.65,92.36L247.85,89.06L247.85,95.66Z" fill="#1cc2c2"/><path d="M260.31,89.68L254.51,86.38L254.51,92.98Z" fill="#1cc2c2"/><path d="M266.98,87.28L261.18,83.98L261.18,90.58Z" fill="#1cc2c2"/><path d="M273.64,85.15L267.84,81.85L267.84,88.45Z" fill="#1cc2c2"/><path d="M280.30,83.18L274.50,79.88L274.50,86.48Z" fill="#1cc2c2"/><path d="M286.96,81.34L281.16,78.04L281.16,84.64Z" fill="#1cc2c2"/><path d="M293.63,79.60L287.83,76.30L287.83,82.90Z" fill="#1cc2c2"/><path d="M300.29,77.92L294.49,74.62L294.49,81.22Z" fill="#1cc2c2"/><path d="M306.95,76.28L301.15,72.98L301.15,79.58Z" fill="#1cc2c2"/><path d="M313.62,74.70L307.82,71.40L307.82,78.00Z" fill="#1cc2c2"/><path d="M320.28,73.20L314.48,69.90L314.48,76.50Z" fill="#1cc2c2"/><path d="M326.94,71.78L321.14,68.48L321.14,75.08Z" fill="#1cc2c2"/><path d="M333.61,70.48L327.81,67.18L327.81,73.78Z" fill="#1cc2c2"/><path d="M340.27,69.28L334.47,65.98L334.47,72.58Z" fill="#1cc2c2"/><path d="M346.93,68.18L341.13,64.88L341.13,71.48Z" fill="#1cc2c2"/><path d="M353.59,67.14L347.79,63.84L347.79,70.44Z" fill="#1cc2c2"/><path d="M360.26,66.15L354.46,62.85L354.46,69.45Z" fill="#1cc2c2"/><path d="M366.92,65.17L361.12,61.87L361.12,68.47Z" fill="#1cc2c2"/><path d="M373.58,64.20L367.78,60.90L367.78,67.50Z" fill="#1cc2c2"/><path d="M380.25,63.28L374.45,59.98L374.45,66.58Z" fill="#1cc2c2"/><path d="M386.91,62.47L381.11,59.17L381.11,65.77Z" fill="#1cc2c2"/><path d="M393.57,61.83L387.77,58.53L387.77,65.13Z" fill="#1cc2c2"/><path d="M400.24,61.35L394.44,58.05L394.44,64.65Z" fill="#1cc2c2"/><path d="M406.90,60.95L401.10,57.65L401.10,64.25Z" fill="#1cc2c2"/><path d="M413.56,60.59L407.76,57.29L407.76,63.89Z" fill="#1cc2c2"/><path d="M420.22,60.26L414.42,56.96L414.42,63.56Z" fill="#1cc2c2"/><path d="M426.89,59.91L421.09,56.61L421.09,63.21Z" fill="#1cc2c2"/><path d="M433.55,59.55L427.75,56.25L427.75,62.85Z" fill="#1cc2c2"/><path d="M440.21,59.19L434.41,55.89L434.41,62.49Z" fill="#1cc2c2"/><path d="M446.88,58.83L441.08,55.53L441.08,62.13Z" fill="#1cc2c2"/><path d="M453.54,58.51L447.74,55.21L447.74,61.81Z" fill="#1cc2c2"/><path d="M460.20,58.23L454.40,54.93L454.40,61.53Z" fill="#1cc2c2"/><path d="M466.87,57.99L461.07,54.69L461.07,61.29Z" fill="#1cc2c2"/><path d="M473.53,57.75L467.73,54.45L467.73,61.05Z" fill="#1cc2c2"/><path d="M480.19,57.54L474.39,54.24L474.39,60.84Z" fill="#1cc2c2"/><path d="M486.85,57.34L481.05,54.04L481.05,60.64Z" fill="#1cc2c2"/><path d="M493.52,57.17L487.72,53.87L487.72,60.47Z" fill="#1cc2c2"/><path d="M500.18,57.03L494.38,53.73L494.38,60.33Z" fill="#1cc2c2"/></g><g stroke="#000" stroke-width="1.5" fill="none"><path d="M63.5,18.1H496.6M63.5,17.4V307M62.8,306.4H491.5"/><path d="M97.00,306.4V301"/><path d="M163.63,306.4V301"/><path d="M230.26,306.4V301"/><path d="M296.89,306.4V301"/><path d="M363.52,306.4V301"/><path d="M430.15,306.4V301"/><path d="M496.78,306.4V301"/><path d="M63.5,282.20H68.5"/><path d="M63.5,234.19H68.5"/><path d="M63.5,186.18H68.5"/><path d="M63.5,138.17H68.5"/><path d="M63.5,90.16H68.5"/><path d="M63.5,42.15H68.5"/></g><g stroke="#ff1a1a" stroke-width="1.5" fill="none"><path d="M496.6,17.4V307.1"/><path d="M496.6,306.68H491.2"/><path d="M496.6,217.65H491.2"/><path d="M496.6,128.63H491.2"/><path d="M496.6,39.60H491.2"/></g><g font-family="Liberation Serif" font-size="17" fill="#000" stroke="#000" stroke-width="0.3"><text x="57.2" y="287.70" text-anchor="end">0.0</text><text x="57.2" y="239.69" text-anchor="end">0.1</text><text x="57.2" y="191.68" text-anchor="end">0.2</text><text x="57.2" y="143.67" text-anchor="end">0.3</text><text x="57.2" y="95.66" text-anchor="end">0.4</text><text x="57.2" y="47.65" text-anchor="end">0.5</text><text x="97.00" y="325.6" text-anchor="middle">0</text><text x="163.63" y="325.6" text-anchor="middle">20</text><text x="230.26" y="325.6" text-anchor="middle">40</text><text x="296.89" y="325.6" text-anchor="middle">60</text><text x="363.52" y="325.6" text-anchor="middle">80</text><text x="430.15" y="325.6" text-anchor="middle">100</text><text x="496.78" y="325.6" text-anchor="middle">120</text><text x="502.5" y="310.98">40</text><text x="502.5" y="222.05">60</text><text x="502.5" y="133.63">80</text><text x="502.5" y="44.90">100</text><text x="280.3" y="352.9" text-anchor="middle">Time (min)</text><text transform="translate(539.5,161.3) rotate(-90)" text-anchor="middle" font-size="17.6">Temperature (°C)</text><text transform="translate(24.9,178.6) rotate(-90)" text-anchor="middle" font-size="17.75">CO<tspan font-size="11" dy="4">2</tspan><tspan dy="-4"> desorption capacity (mol CO</tspan><tspan font-size="11" dy="4">2</tspan><tspan dy="-4">/mol amine)</tspan></text></g><rect x="342" y="130.2" width="147.2" height="169.1" fill="#fff" stroke="#000" stroke-width="1.6"/><path d="M343.6,140.70H379.4" stroke="#ff2a2a" stroke-width="1.7"/><text x="383.3" y="145.90" font-family="Liberation Serif" font-size="15" stroke="#000" stroke-width="0.3">Temperature</text><path d="M343.6,160.10H379.4" stroke="#404040" stroke-width="1.7"/><rect x="358.33" y="157.13" width="5.94" height="5.94" fill="#404040"/><text x="383.3" y="165.30" font-family="Liberation Serif" font-size="15" stroke="#000" stroke-width="0.3">Without catalysis</text><path d="M343.6,178.90H379.4" stroke="#f53c3c" stroke-width="1.7"/><circle cx="361.30" cy="178.90" r="3.25" fill="#f53c3c"/><text x="383.3" y="184.10" font-family="Liberation Serif" font-size="15" stroke="#000" stroke-width="0.3">VWT</text><path d="M343.6,198.40H379.4" stroke="#1a5fe0" stroke-width="1.7"/><path d="M361.30,194.59L365.00,201.09L357.60,201.09Z" fill="#1a5fe0"/><text x="383.3" y="203.60" font-family="Liberation Serif" font-size="15" stroke="#000" stroke-width="0.3">γ-Al<tspan font-size="10.5" dy="4.5">2</tspan><tspan dy="-4.5">O</tspan><tspan font-size="10.5" dy="4.5">3</tspan></text><path d="M343.6,221.00H379.4" stroke="#12a05a" stroke-width="1.7"/><path d="M361.30,224.81L365.00,218.31L357.60,218.31Z" fill="#12a05a"/><text x="383.3" y="226.20" font-family="Liberation Serif" font-size="15" stroke="#000" stroke-width="0.3">ZnO</text><path d="M343.6,240.20H379.4" stroke="#c267ea" stroke-width="1.7"/><path d="M361.30,236.17L365.11,240.20L361.30,244.23L357.49,240.20Z" fill="#c267ea"/><text x="383.3" y="245.40" font-family="Liberation Serif" font-size="15" stroke="#000" stroke-width="0.3">CeO<tspan font-size="10.5" dy="4.5">2</tspan></text><path d="M343.6,262.70H379.4" stroke="#dd9a12" stroke-width="1.7"/><path d="M357.49,262.70L363.99,259.00L363.99,266.40Z" fill="#dd9a12"/><text x="383.3" y="267.90" font-family="Liberation Serif" font-size="15" stroke="#000" stroke-width="0.3">ZnO-γ-Al<tspan font-size="10.5" dy="4.5">2</tspan><tspan dy="-4.5">O</tspan><tspan font-size="10.5" dy="4.5">3</tspan></text><path d="M343.6,285.20H379.4" stroke="#1cc2c2" stroke-width="1.7"/><path d="M365.11,285.20L358.61,281.50L358.61,288.90Z" fill="#1cc2c2"/><text x="383.3" y="290.40" font-family="Liberation Serif" font-size="15" stroke="#000" stroke-width="0.3">CeO<tspan font-size="10.5" dy="4.5">2</tspan><tspan dy="-4.5">-γ-Al</tspan><tspan font-size="10.5" dy="4.5">2</tspan><tspan dy="-4.5">O</tspan><tspan font-size="10.5" dy="4.5">3</tspan></text></svg>
</body></html>
